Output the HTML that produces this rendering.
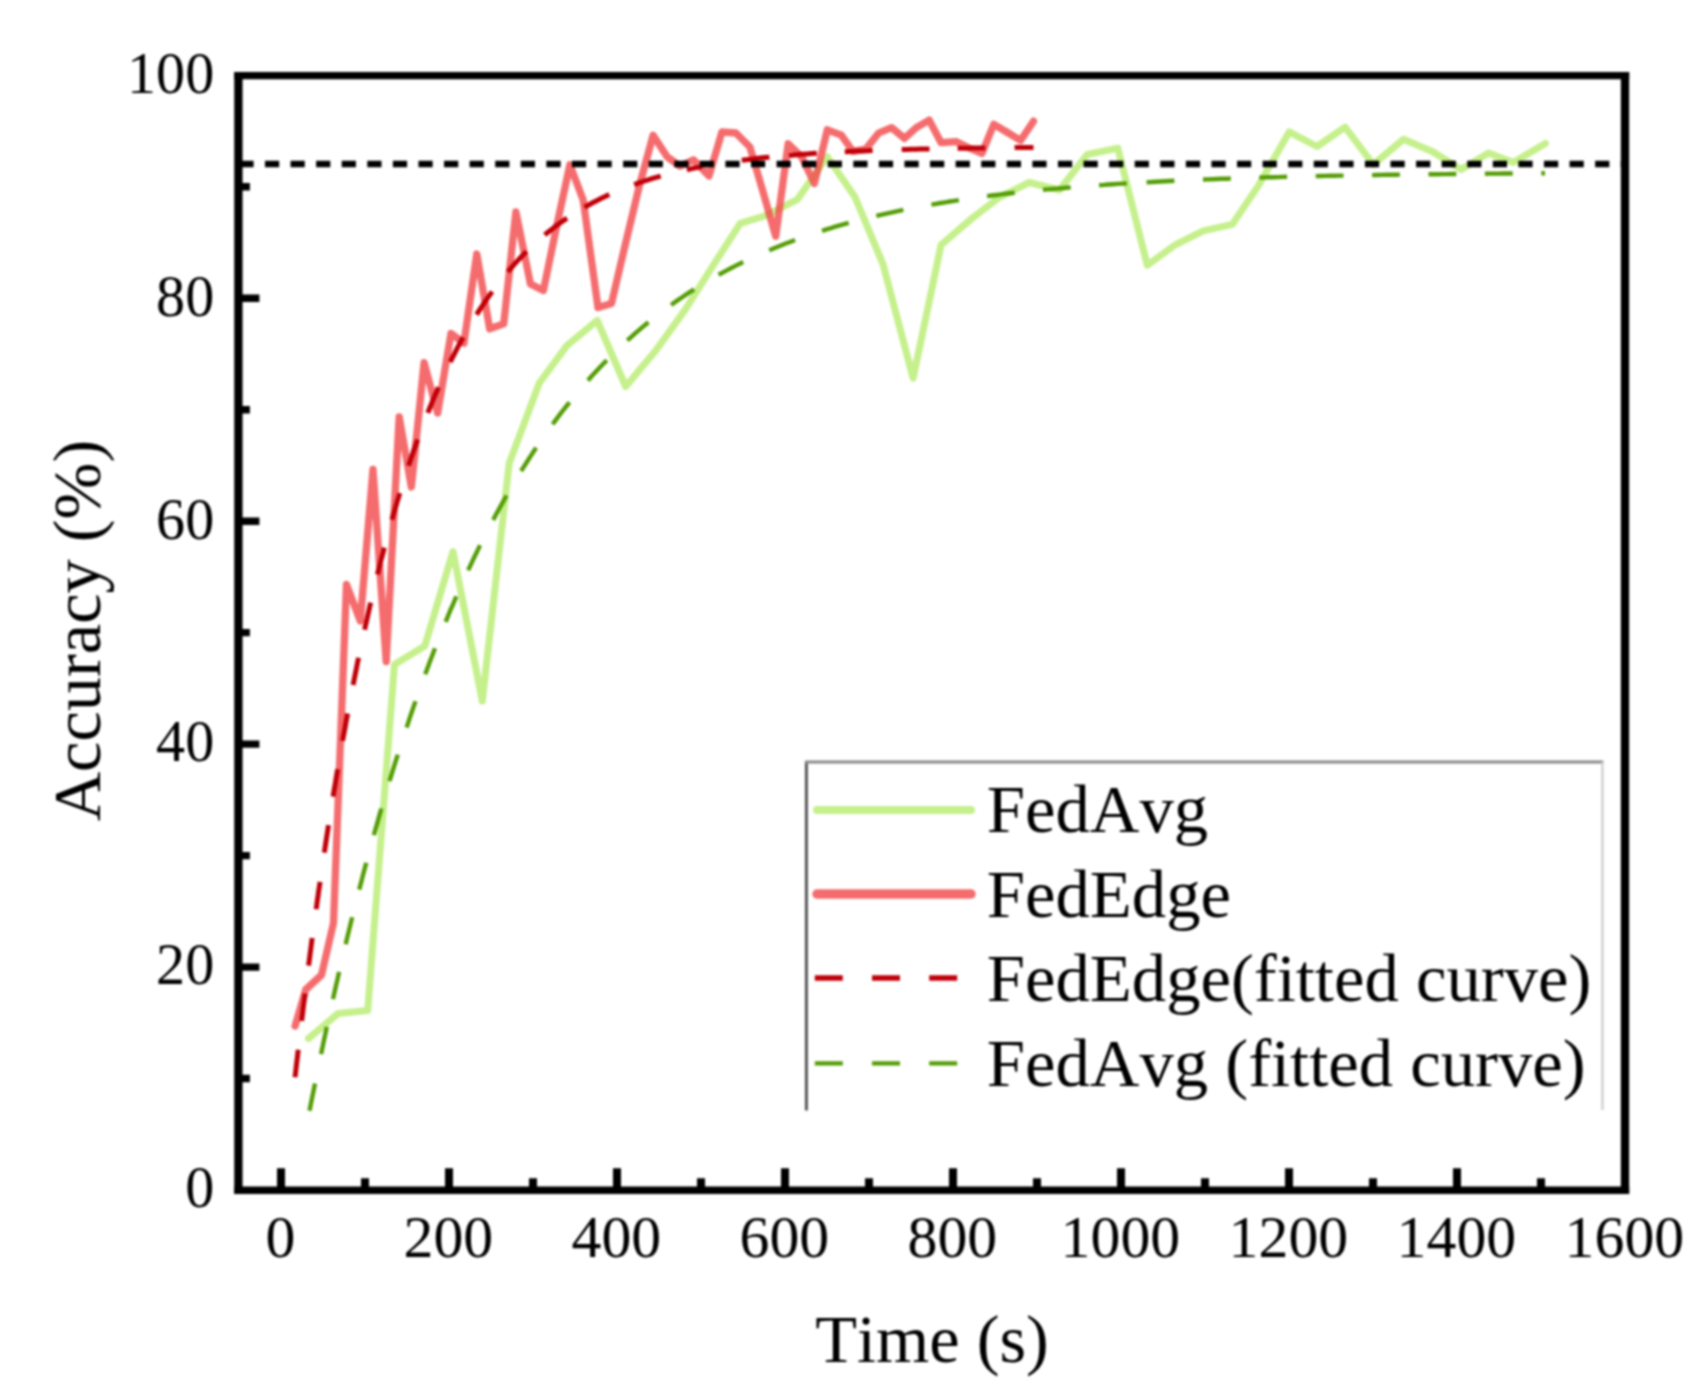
<!DOCTYPE html>
<html lang="en"><head><meta charset="utf-8"><title>Accuracy vs Time</title>
<style>html,body{margin:0;padding:0;background:#fff}body{width:1704px;height:1395px;overflow:hidden}</style></head>
<body>
<svg width="1704" height="1395" viewBox="0 0 1704 1395" style="display:block;filter:blur(0.9px)">
<rect width="1704" height="1395" fill="#fff"/>
<polyline points="308.5,1038.5 338.1,1013.5 367.7,1010.5 394.5,664.5 424.8,646.0 453.0,551.5 482.3,701.0 509.2,463.2 539.3,383.0 567.1,345.4 597.2,320.5 625.7,386.5 655.8,350.5 685.4,309.4 711.2,268.5 740.2,223.3 764.9,215.8 797.2,199.7 827.3,156.7 855.0,197.0 883.0,264.2 913.1,378.2 941.1,244.8 971.2,219.0 999.1,197.5 1029.2,182.5 1059.4,190.0 1087.3,154.5 1117.8,148.1 1147.3,265.3 1175.3,244.8 1203.2,230.9 1232.3,224.4 1259.1,184.6 1289.2,131.9 1317.0,146.5 1345.1,127.2 1373.3,164.5 1403.5,139.2 1432.8,151.7 1461.2,169.5 1488.5,152.9 1513.4,162.4 1545.4,143.4" fill="none" stroke="#c5f08c" stroke-width="7" stroke-linejoin="round" stroke-linecap="round"/>
<polyline points="295.1,1026.0 305.8,989.5 321.5,975.0 333.5,923.0 346.5,584.5 360.3,621.0 373.0,469.5 386.2,661.5 399.2,417.0 411.4,487.0 424.1,362.6 437.6,413.1 451.0,333.5 463.9,343.2 476.8,254.0 489.7,328.8 503.7,323.9 515.9,212.0 530.5,284.1 543.4,290.5 556.5,227.0 569.9,164.7 583.2,200.0 598.0,307.5 611.5,303.5 625.2,244.8 639.1,186.8 653.1,135.2 667.1,156.7 680.0,166.3 693.5,159.9 709.0,176.0 721.9,131.9 735.9,133.0 749.9,147.0 762.5,190.0 775.7,236.2 788.2,143.8 801.5,156.7 814.4,183.5 827.3,129.8 841.3,135.2 852.9,151.3 865.8,149.1 878.7,133.0 891.6,127.6 904.5,138.4 916.3,127.6 929.2,120.1 941.1,142.7 956.1,141.6 969.0,148.0 981.9,153.4 993.8,124.4 1006.7,132.0 1020.6,140.5 1033.5,121.2" fill="none" stroke="#f2474a" stroke-opacity="0.8" stroke-width="7.3" stroke-linejoin="round" stroke-linecap="round"/>
<path d="M295.0 1077.3 L295.6 1072.7 L296.1 1068.1 L296.6 1063.5 L297.2 1058.9 L297.7 1054.3 L298.2 1049.7 M301.7 1021.1 L302.2 1016.5 L302.8 1011.9 L303.3 1007.3 L303.9 1002.7 L304.5 998.1 L305.1 993.5 M308.6 965.6 L309.2 961.0 L309.8 956.4 L310.4 951.8 L311.0 947.2 L311.6 942.6 L312.2 938.0 M316.2 909.3 L316.8 904.7 L317.4 900.1 L318.1 895.5 L318.7 890.9 L319.4 886.4 L320.1 881.8 M324.3 852.7 L325.0 848.1 L325.7 843.5 L326.4 838.9 L327.1 834.4 L327.8 829.8 L328.5 825.2 M333.1 796.7 L333.8 792.1 L334.6 787.5 L335.4 783.0 L336.1 778.4 L336.9 773.8 L337.7 769.2 M342.6 740.9 L343.4 736.3 L344.3 731.8 L345.1 727.2 L345.9 722.6 L346.8 718.1 L347.6 713.5 M353.1 685.0 L354.0 680.5 L354.9 676.0 L355.8 671.4 L356.7 666.9 L357.6 662.3 L358.6 657.8 M364.6 629.8 L365.5 625.3 L366.6 620.8 L367.6 616.3 L368.6 611.7 L369.6 607.2 L370.7 602.7 M377.4 574.5 L378.6 570.0 L379.7 565.5 L380.8 561.0 L382.0 556.5 L383.2 552.1 L384.3 547.6 M391.9 519.8 L393.2 515.3 L394.5 510.9 L395.8 506.5 L397.1 502.0 L398.5 497.6 L399.8 493.1 M408.5 465.8 L410.0 461.4 L411.5 457.0 L413.0 452.6 L414.5 448.3 L416.1 443.9 L417.6 439.5 M427.8 412.8 L429.5 408.5 L431.3 404.2 L433.0 399.9 L434.8 395.7 L436.7 391.4 L438.5 387.2 M450.2 362.0 L452.3 357.9 L454.4 353.8 L456.5 349.6 L458.7 345.5 L460.9 341.5 L463.1 337.4 M476.6 314.6 L479.1 310.7 L481.6 306.8 L484.2 303.0 L486.8 299.1 L489.5 295.4 L492.2 291.6 M507.8 271.8 L510.8 268.3 L513.8 264.8 L517.0 261.4 L520.1 258.0 L523.3 254.7 L526.6 251.4 M544.7 234.9 L548.3 232.0 L552.0 229.1 L555.6 226.3 L559.4 223.5 L563.1 220.8 L567.0 218.2 M584.5 207.3 L588.6 205.0 L592.6 202.8 L596.7 200.7 L600.9 198.6 L605.1 196.6 L609.3 194.6 M634.2 184.6 L638.6 183.0 L643.0 181.5 L647.4 180.1 L651.8 178.7 L656.2 177.4 L660.7 176.1 M686.9 169.7 L691.8 168.6 L696.8 167.6 L701.8 166.6 M741.8 160.3 L746.4 159.7 L751.0 159.2 L755.6 158.6 L760.2 158.1 L764.8 157.6 L769.4 157.2 M789.0 155.4 L793.6 155.0 L798.3 154.6 L802.9 154.3 L807.5 153.9 L812.1 153.6 L816.8 153.3 M844.8 151.7 L849.4 151.5 L854.1 151.3 L858.7 151.1 L863.3 150.9 L868.0 150.7 L872.6 150.5 M901.7 149.6 L906.3 149.5 L910.9 149.3 L915.6 149.2 L920.2 149.1 L924.8 149.0 L929.5 148.9 M957.6 148.3 L962.2 148.3 L966.8 148.2 L971.5 148.1 L976.1 148.0 L980.7 148.0 L985.3 147.9 M1014.6 147.6 L1019.4 147.5 L1024.1 147.5 L1028.8 147.5 L1033.5 147.4" fill="none" stroke="#c00008" stroke-width="5" stroke-linecap="butt"/>
<path d="M309.5 1110.7 L310.4 1106.2 L311.3 1101.6 L312.2 1097.1 L313.2 1092.5 L314.1 1088.0 L315.0 1083.5 M321.1 1054.1 L322.0 1049.5 L323.0 1045.0 L323.9 1040.5 L324.9 1036.0 L325.9 1031.4 L326.8 1026.9 M333.0 999.1 L334.0 994.5 L335.0 990.0 L336.0 985.5 L337.1 981.0 L338.1 976.5 L339.1 971.9 M345.7 944.2 L346.7 939.7 L347.8 935.2 L348.9 930.7 L350.0 926.2 L351.1 921.7 L352.2 917.2 M359.2 889.6 L360.4 885.1 L361.6 880.6 L362.7 876.1 L363.9 871.6 L365.1 867.2 L366.3 862.7 M373.8 835.2 L375.1 830.7 L376.3 826.3 L377.6 821.8 L378.8 817.4 L380.1 812.9 L381.4 808.5 M389.5 781.1 L390.9 776.7 L392.2 772.3 L393.6 767.8 L395.0 763.4 L396.4 759.0 L397.8 754.6 M406.6 727.5 L408.1 723.1 L409.5 718.7 L411.0 714.3 L412.5 709.9 L414.0 705.5 L415.6 701.2 M425.2 674.3 L426.8 670.0 L428.4 665.7 L430.0 661.3 L431.7 657.0 L433.3 652.7 L435.0 648.3 M445.6 621.9 L447.4 617.6 L449.1 613.3 L450.9 609.0 L452.8 604.8 L454.6 600.5 L456.4 596.3 M468.1 570.3 L470.1 566.1 L472.1 561.9 L474.0 557.7 L476.1 553.5 L478.1 549.4 L480.1 545.2 M493.2 519.9 L495.3 515.8 L497.5 511.7 L499.8 507.6 L502.0 503.6 L504.3 499.5 L506.6 495.5 M521.1 471.0 L523.6 467.1 L526.1 463.2 L528.6 459.3 L531.1 455.4 L533.6 451.5 L536.2 447.7 M552.6 424.3 L555.3 420.6 L558.1 416.9 L560.9 413.2 L563.7 409.5 L566.6 405.9 L569.5 402.3 M587.9 380.5 L590.9 377.0 L594.1 373.6 L597.2 370.2 L600.4 366.8 L603.6 363.5 L606.8 360.2 M627.3 340.4 L630.8 337.3 L634.3 334.2 L637.8 331.2 L641.3 328.2 L644.8 325.2 L648.4 322.3 M671.1 305.0 L674.8 302.3 L678.6 299.6 L682.5 297.0 L686.3 294.4 L690.2 291.9 L694.1 289.4 M718.6 274.8 L722.6 272.6 L726.7 270.4 L730.8 268.3 L734.9 266.1 L739.1 264.1 L743.2 262.0 M769.2 250.2 L773.5 248.5 L777.8 246.7 L782.1 245.0 L786.4 243.3 L790.7 241.7 L795.1 240.0 M822.0 230.8 L826.4 229.4 L830.9 228.1 L835.3 226.7 L839.8 225.4 L844.2 224.2 L848.7 222.9 M876.3 215.9 L880.8 214.8 L885.3 213.8 L889.8 212.8 L894.4 211.8 L898.9 210.8 L903.4 209.9 M931.4 204.6 L936.0 203.8 L940.6 203.0 L945.1 202.3 L949.7 201.5 L954.3 200.8 L958.9 200.1 M987.1 196.1 L991.7 195.5 L996.3 195.0 L1000.9 194.4 L1005.5 193.8 L1010.1 193.3 L1014.7 192.8 M1043.0 189.8 L1047.6 189.4 L1052.3 189.0 L1056.9 188.6 L1061.5 188.2 L1066.1 187.8 L1070.7 187.4 M1099.1 185.2 L1103.8 184.9 L1108.4 184.5 L1113.0 184.2 L1117.6 183.9 L1122.3 183.6 L1126.9 183.4 M1146.6 182.2 L1151.3 182.0 L1155.9 181.7 L1160.5 181.5 L1165.2 181.2 L1169.8 181.0 L1174.4 180.8 M1203.0 179.5 L1207.6 179.4 L1212.2 179.2 L1216.9 179.0 L1221.5 178.8 L1226.1 178.7 L1230.8 178.5 M1259.3 177.6 L1264.0 177.4 L1268.6 177.3 L1273.2 177.2 L1277.9 177.1 L1282.5 176.9 L1287.1 176.8 M1315.7 176.1 L1320.4 176.0 L1325.0 175.9 L1329.6 175.8 L1334.3 175.7 L1338.9 175.6 L1343.5 175.6 M1372.1 175.1 L1376.8 175.0 L1381.4 174.9 L1386.0 174.8 L1390.6 174.8 L1395.3 174.7 L1399.9 174.6 M1428.5 174.3 L1433.1 174.2 L1437.8 174.2 L1442.4 174.1 L1447.0 174.1 L1451.7 174.0 L1456.3 174.0 M1484.9 173.7 L1489.5 173.6 L1494.2 173.6 L1498.8 173.6 L1503.4 173.5 L1508.1 173.5 L1512.7 173.5 M1541.3 173.3 L1545.0 173.2" fill="none" stroke="#549d06" stroke-width="4.4" stroke-linecap="butt"/>
<line x1="239.4" y1="164" x2="1625.0" y2="164" stroke="#000" stroke-width="6.5" stroke-dasharray="14.2 11.38"/>
<g>
<rect x="807" y="762" width="795" height="349" fill="#fff"/>
<path d="M806.4 1110.5 V762" fill="none" stroke="#565656" stroke-width="3"/>
<path d="M804.9 762 H1603.4" fill="none" stroke="#8a8a8a" stroke-width="3"/>
<path d="M1602.4 762 V1110" fill="none" stroke="#d2d2d2" stroke-width="2.6"/>
<line x1="817" y1="810" x2="971" y2="810" stroke="#c5f08c" stroke-width="8" stroke-linecap="round"/>
<line x1="817" y1="894" x2="971" y2="894" stroke="#f56c6e" stroke-width="9.5" stroke-linecap="round"/>
<line x1="814.8" y1="978" x2="975" y2="978" stroke="#c00008" stroke-width="5.4" stroke-dasharray="28 29.2"/>
<line x1="814.8" y1="1063.4" x2="975" y2="1063.4" stroke="#549d06" stroke-width="4.4" stroke-dasharray="28 29.2"/>
<text x="986.8" y="831.6" style="font-family:'Liberation Serif','DejaVu Serif',serif;font-size:68.7px;font-kerning:none;font-variant-ligatures:none;" fill="#000">FedAvg</text>
<text x="986.8" y="917" style="font-family:'Liberation Serif','DejaVu Serif',serif;font-size:68.7px;font-kerning:none;font-variant-ligatures:none;" fill="#000">FedEdge</text>
<text x="986.8" y="1001.3" style="font-family:'Liberation Serif','DejaVu Serif',serif;font-size:68.7px;font-kerning:none;font-variant-ligatures:none;" fill="#000">FedEdge(fitted curve)</text>
<text x="986.8" y="1086" style="font-family:'Liberation Serif','DejaVu Serif',serif;font-size:68.7px;font-kerning:none;font-variant-ligatures:none;" fill="#000">FedAvg (fitted curve)</text>
</g>
<path d="M238.4 72.05 V1194.0 M1625.0 72.05 V1194.0" stroke="#000" stroke-width="8.3" fill="none"/>
<path d="M234.3 75.6 H1629.2" stroke="#000" stroke-width="7.1" fill="none"/>
<path d="M234.3 1190.3 H1629.2" stroke="#000" stroke-width="7.4" fill="none"/>
<path d="M281.0 1190.3 V1168.3 M365.0 1190.3 V1178.3 M449.0 1190.3 V1168.3 M533.0 1190.3 V1178.3 M617.0 1190.3 V1168.3 M701.0 1190.3 V1178.3 M785.0 1190.3 V1168.3 M869.0 1190.3 V1178.3 M953.0 1190.3 V1168.3 M1037.0 1190.3 V1178.3 M1121.0 1190.3 V1168.3 M1205.0 1190.3 V1178.3 M1289.0 1190.3 V1168.3 M1373.0 1190.3 V1178.3 M1457.0 1190.3 V1168.3 M1541.0 1190.3 V1178.3" stroke="#000" stroke-width="8" fill="none"/>
<path d="M238.4 1078.5 H249.9 M238.4 967.1 H259.4 M238.4 855.6 H249.9 M238.4 744.1 H259.4 M238.4 632.6 H249.9 M238.4 521.2 H259.4 M238.4 409.7 H249.9 M238.4 298.2 H259.4 M238.4 186.8 H249.9" stroke="#000" stroke-width="7.4" fill="none"/>
<text x="280.4" y="1257.2" text-anchor="middle" style="font-family:'Liberation Serif','DejaVu Serif',serif;font-size:59.8px;font-kerning:none;">0</text>
<text x="448.4" y="1257.2" text-anchor="middle" style="font-family:'Liberation Serif','DejaVu Serif',serif;font-size:59.8px;font-kerning:none;">200</text>
<text x="616.4" y="1257.2" text-anchor="middle" style="font-family:'Liberation Serif','DejaVu Serif',serif;font-size:59.8px;font-kerning:none;">400</text>
<text x="784.4" y="1257.2" text-anchor="middle" style="font-family:'Liberation Serif','DejaVu Serif',serif;font-size:59.8px;font-kerning:none;">600</text>
<text x="952.4" y="1257.2" text-anchor="middle" style="font-family:'Liberation Serif','DejaVu Serif',serif;font-size:59.8px;font-kerning:none;">800</text>
<text x="1120.4" y="1257.2" text-anchor="middle" style="font-family:'Liberation Serif','DejaVu Serif',serif;font-size:59.8px;font-kerning:none;">1000</text>
<text x="1288.4" y="1257.2" text-anchor="middle" style="font-family:'Liberation Serif','DejaVu Serif',serif;font-size:59.8px;font-kerning:none;">1200</text>
<text x="1456.4" y="1257.2" text-anchor="middle" style="font-family:'Liberation Serif','DejaVu Serif',serif;font-size:59.8px;font-kerning:none;">1400</text>
<text x="1624.4" y="1257.2" text-anchor="middle" style="font-family:'Liberation Serif','DejaVu Serif',serif;font-size:59.8px;font-kerning:none;">1600</text>
<text transform="translate(214.2 1207.3) scale(0.972 1)" text-anchor="end" style="font-family:'Liberation Serif','DejaVu Serif',serif;font-size:59.8px;font-kerning:none;">0</text>
<text transform="translate(214.2 984.4) scale(0.972 1)" text-anchor="end" style="font-family:'Liberation Serif','DejaVu Serif',serif;font-size:59.8px;font-kerning:none;">20</text>
<text transform="translate(214.2 761.4) scale(0.972 1)" text-anchor="end" style="font-family:'Liberation Serif','DejaVu Serif',serif;font-size:59.8px;font-kerning:none;">40</text>
<text transform="translate(214.2 538.5) scale(0.972 1)" text-anchor="end" style="font-family:'Liberation Serif','DejaVu Serif',serif;font-size:59.8px;font-kerning:none;">60</text>
<text transform="translate(214.2 315.5) scale(0.972 1)" text-anchor="end" style="font-family:'Liberation Serif','DejaVu Serif',serif;font-size:59.8px;font-kerning:none;">80</text>
<text transform="translate(214.2 92.6) scale(0.972 1)" text-anchor="end" style="font-family:'Liberation Serif','DejaVu Serif',serif;font-size:59.8px;font-kerning:none;">100</text>
<text x="932" y="1362.3" text-anchor="middle" style="font-family:'Liberation Serif','DejaVu Serif',serif;font-size:68.4px;font-kerning:none;">Time (s)</text>
<text transform="translate(99.5 630.5) rotate(-90)" text-anchor="middle" style="font-family:'Liberation Serif','DejaVu Serif',serif;font-size:68.4px;font-kerning:none;">Accuracy (%)</text>
</svg>
</body></html>
